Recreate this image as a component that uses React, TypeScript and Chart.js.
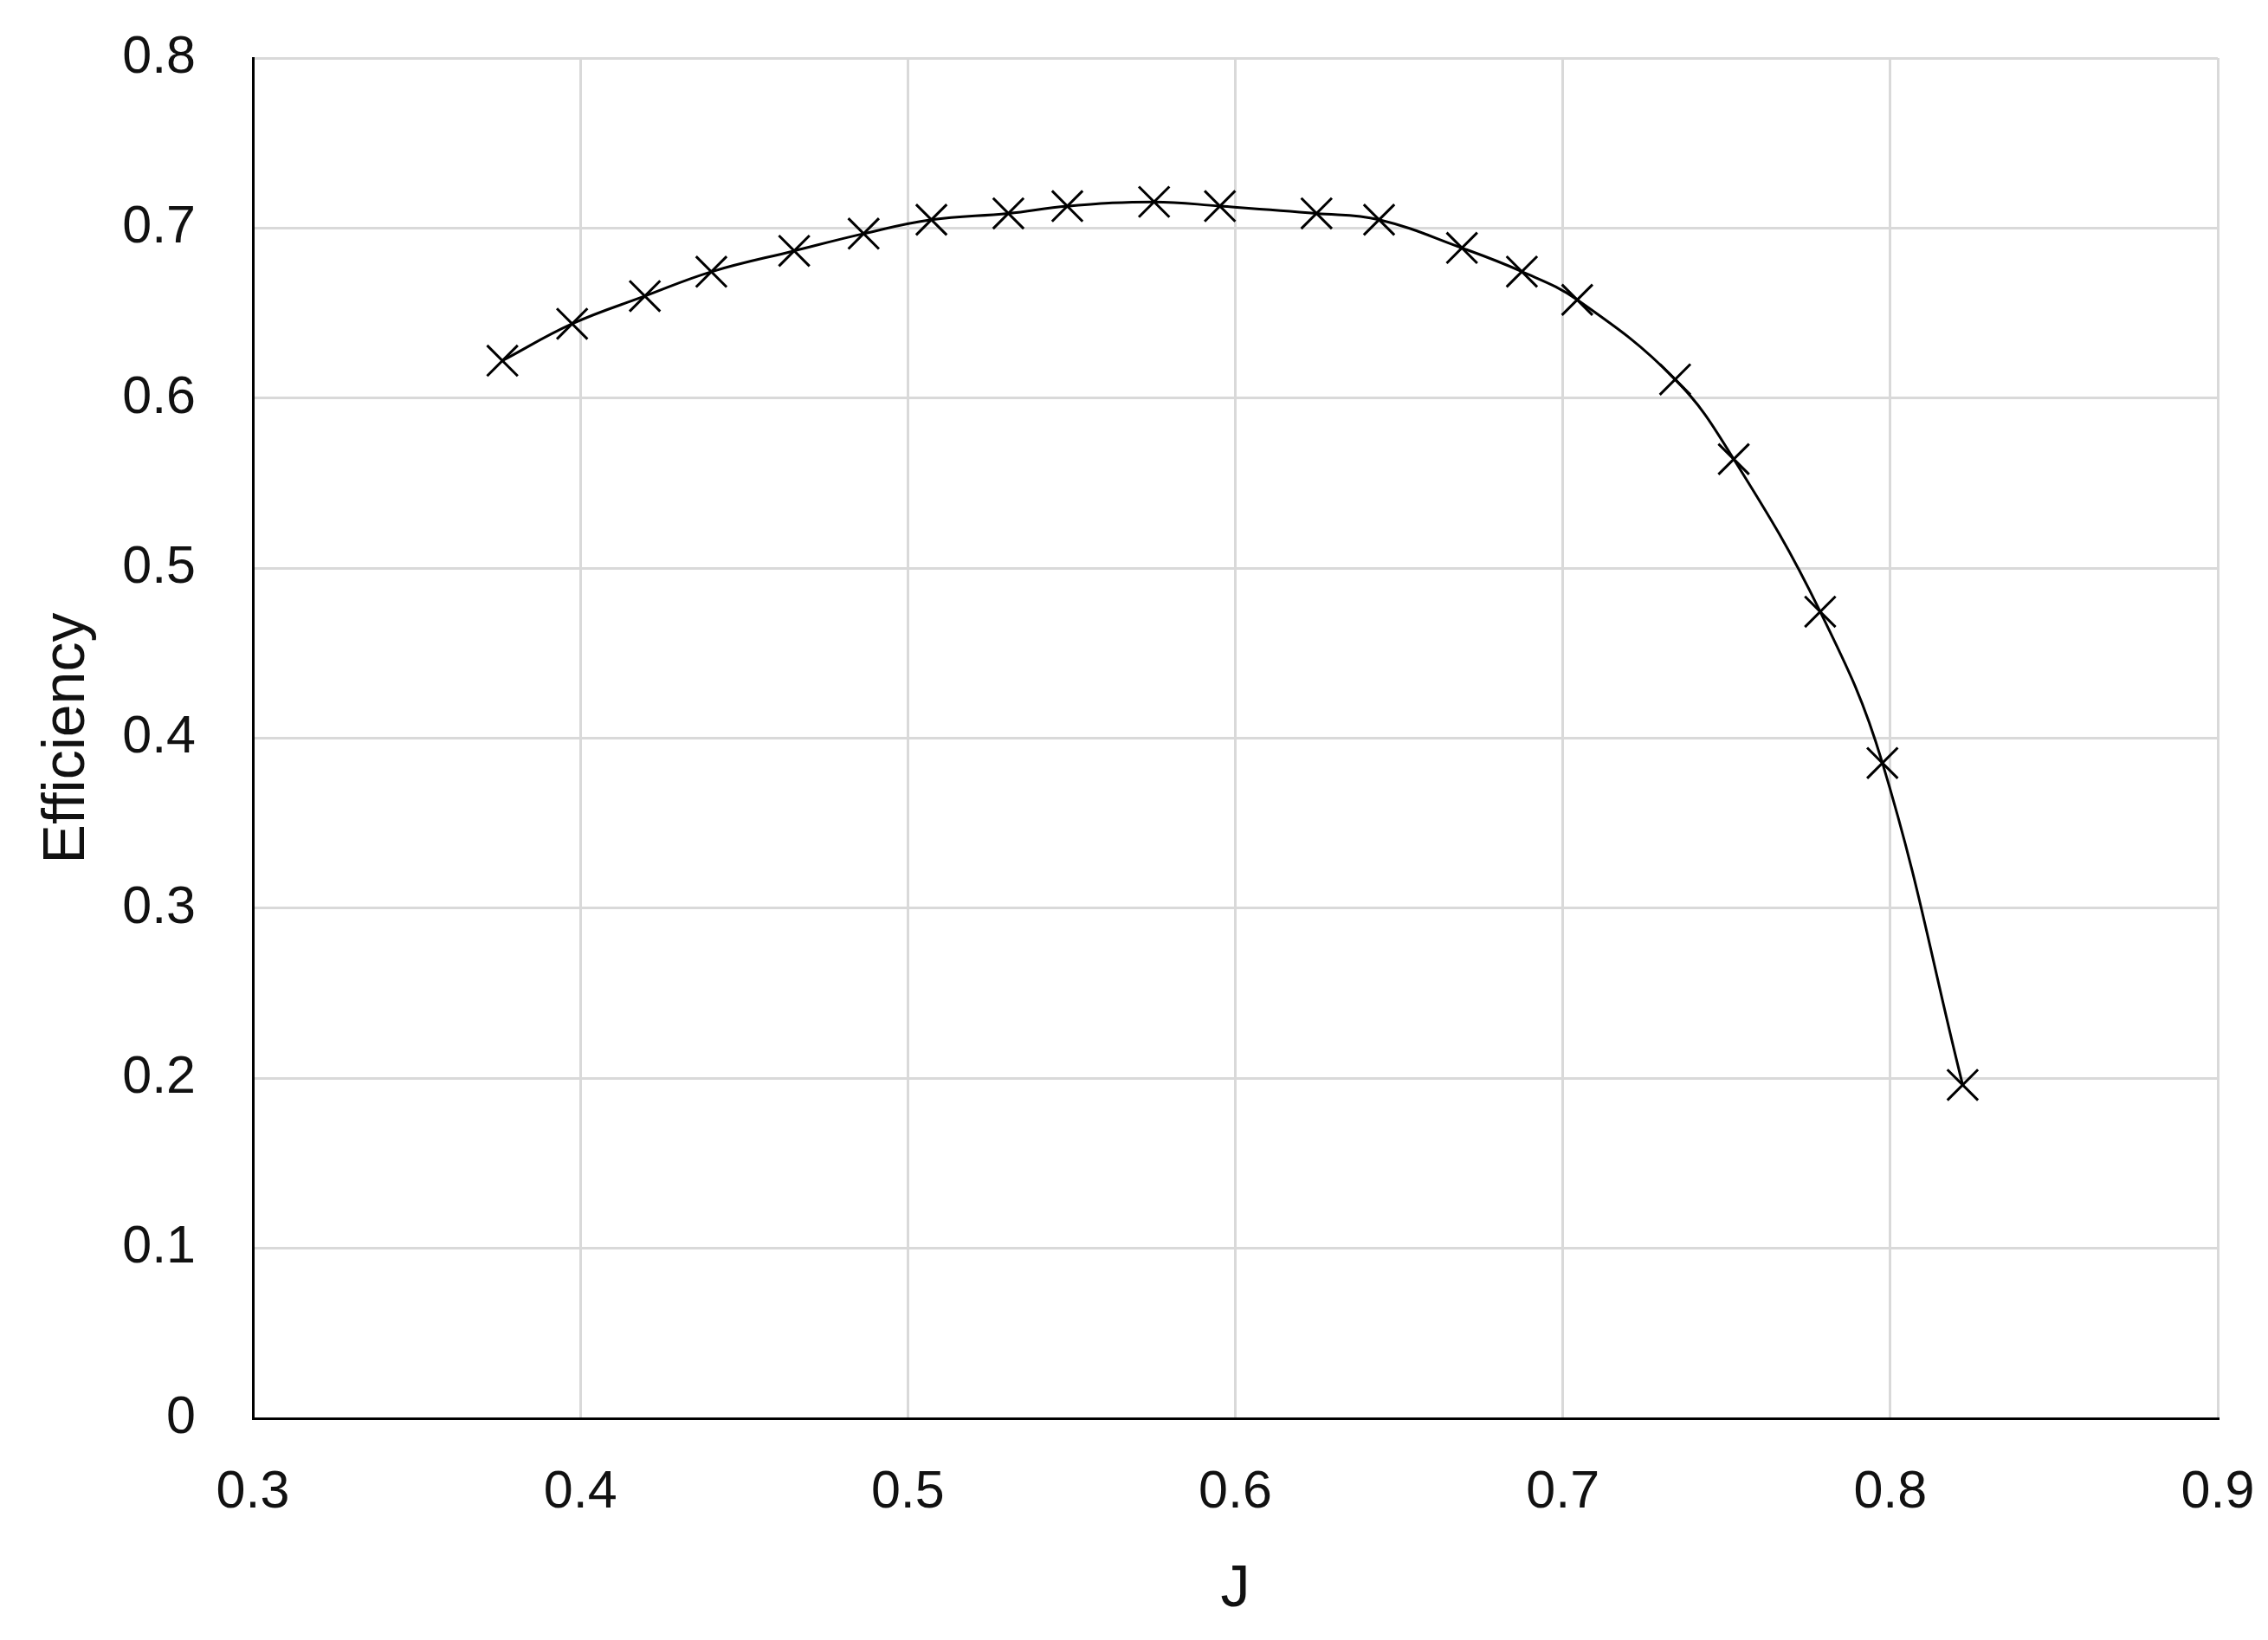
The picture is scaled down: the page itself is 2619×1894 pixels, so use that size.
import React, { useEffect, useRef } from "react";
import { Chart, registerables } from "chart.js";

Chart.register(...registerables);

const advanceRatio: number[] = [
  0.3762, 0.3975, 0.4197, 0.44, 0.4653, 0.4865, 0.5072, 0.5307, 0.5487, 0.5752, 0.5953,
  0.6248, 0.6439, 0.6692, 0.6875, 0.7044, 0.7343, 0.7522, 0.7786, 0.7976, 0.8221,
];
const efficiency: number[] = [
  0.622, 0.6437, 0.66, 0.6743, 0.6866, 0.6967, 0.7049, 0.7086, 0.7129, 0.7154, 0.7129,
  0.7086, 0.7049, 0.6883, 0.6744, 0.6578, 0.611, 0.5641, 0.4744, 0.3854, 0.1961,
];
const xTickValues: number[] = [0.3, 0.4, 0.5, 0.6, 0.7, 0.8, 0.9];
const yTickValues: number[] = [0, 0.1, 0.2, 0.3, 0.4, 0.5, 0.6, 0.7, 0.8];
const xTitle = "J";
const yTitle = "Efficiency";

const FONT = "'Liberation Sans', Arial, sans-serif";

export default function App() {
  const ref = useRef<HTMLCanvasElement | null>(null);

  useEffect(() => {
    if (!ref.current) return;
    const points = advanceRatio.map((x, i) => ({ x, y: efficiency[i] }));
    const chart = new Chart(ref.current, {
      type: "scatter",
      data: {
        datasets: [
          {
            data: points,
            showLine: true,
            borderColor: "#000",
            backgroundColor: "#000",
            borderWidth: 3,
            tension: 0.4,
            pointStyle: "crossRot",
            pointRadius: 25,
            pointBorderWidth: 3,
            pointBorderColor: "#000",
            pointHoverRadius: 25,
          },
        ],
      },
      options: {
        animation: false,
        responsive: true,
        maintainAspectRatio: false,
        layout: { padding: { left: 0, top: 67, right: 58, bottom: 0 } },
        plugins: { legend: { display: false }, tooltip: { enabled: false } },
        scales: {
          x: {
            type: "linear",
            min: 0.3,
            max: 0.9,
            afterBuildTicks: (scale: any) => {
              scale.ticks = xTickValues.map((v) => ({ value: v }));
            },
            afterFit: (scale: any) => {
              scale.height = 256;
              scale.paddingLeft = 0;
              scale.paddingRight = 0;
            },
            grid: { color: "#d9d9d9", lineWidth: 3, drawTicks: false },
            border: { color: "#000", width: 3 },
            ticks: {
              padding: 50,
              color: "#111",
              font: { family: FONT, size: 61 },
              callback: (v: any) => String(Number(Number(v).toFixed(1))),
            },
            title: {
              display: true,
              text: xTitle,
              color: "#111",
              font: { family: FONT, size: 68 },
              padding: { top: 0, bottom: 17 },
            },
          },
          y: {
            type: "linear",
            min: 0,
            max: 0.8,
            afterBuildTicks: (scale: any) => {
              scale.ticks = yTickValues.map((v) => ({ value: v }));
            },
            afterFit: (scale: any) => {
              scale.width = 292;
              scale.paddingTop = 0;
              scale.paddingBottom = 0;
            },
            grid: { color: "#d9d9d9", lineWidth: 3, drawTicks: false },
            border: { color: "#000", width: 3 },
            ticks: {
              padding: 66,
              color: "#111",
              font: { family: FONT, size: 61 },
              callback: (v: any) => String(Number(Number(v).toFixed(1))),
            },
            title: {
              display: true,
              text: yTitle,
              color: "#111",
              font: { family: FONT, size: 68 },
              padding: { top: 37, bottom: 0 },
            },
          },
        },
      },
    });
    return () => chart.destroy();
  }, []);

  return (
    <div
      style={{
        position: "fixed",
        left: 0,
        top: 0,
        width: 2619,
        height: 1894,
        background: "#fff",
      }}
    >
      <canvas ref={ref} />
    </div>
  );
}
